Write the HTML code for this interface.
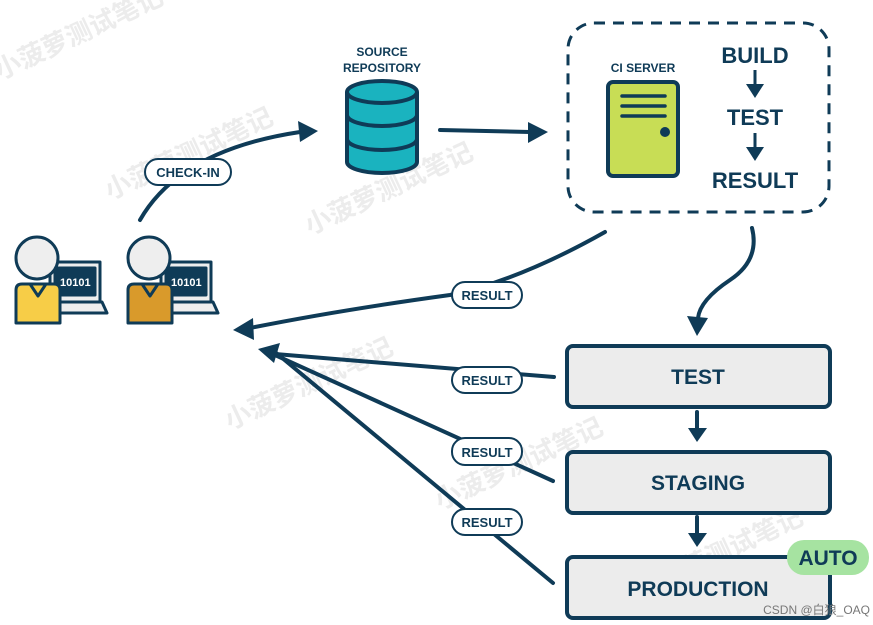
<!DOCTYPE html>
<html><head><meta charset="utf-8"><style>
html,body{margin:0;padding:0;background:#fff;}
svg{display:block;font-family:"Liberation Sans","Noto Sans CJK SC",sans-serif;}
</style></head><body>
<svg width="873" height="625" viewBox="0 0 873 625" xmlns="http://www.w3.org/2000/svg">
<g fill="#ececec" font-size="26" font-weight="bold">
<text x="0" y="80" transform="rotate(-25 0 80)">小菠萝测试笔记</text>
<text x="310" y="235" transform="rotate(-25 310 235)">小菠萝测试笔记</text>
<text x="230" y="430" transform="rotate(-25 230 430)">小菠萝测试笔记</text>
<text x="440" y="510" transform="rotate(-25 440 510)">小菠萝测试笔记</text>
<text x="640" y="600" transform="rotate(-25 640 600)">小菠萝测试笔记</text>
<text x="110" y="200" transform="rotate(-25 110 200)">小菠萝测试笔记</text>
</g>
<g stroke="#0f3b57" stroke-width="4" fill="none" stroke-linecap="round">
<path d="M140,220 Q180,150 300,132" />
<path d="M440,130 L530,132" />
<path d="M605,232 Q520,280 450,295 Q340,310 250,328"/>
<path d="M752,228 Q760,260 730,280 Q700,300 698,318"/>
<path d="M697,412 L697,432"/>
<path d="M697,517 L697,537"/>
<path d="M554,377 L275,354"/>
<path d="M553,481 L275,355"/>
<path d="M553,583 L275,352"/>
</g>
<g fill="#0f3b57">
<path d="M318,131 L298,121 L300,142 Z"/>
<path d="M548,132 L528,122 L528,143 Z"/>
<path d="M233,330 L253,318 L254,340 Z"/>
<path d="M697,336 L687,316 L708,318 Z"/>
<path d="M697,442 L688,428 L707,428 Z"/>
<path d="M697,547 L688,533 L707,533 Z"/>
<path d="M258,349 L280,343 L274,363 Z"/>
</g>
<g font-size="13" font-weight="bold" fill="#0f3b57" text-anchor="middle">
<rect x="145" y="159" width="86" height="26" rx="13" fill="#fff" stroke="#0f3b57" stroke-width="2"/>
<text x="188" y="177">CHECK-IN</text>
<rect x="452" y="282" width="70" height="26" rx="13" fill="#fff" stroke="#0f3b57" stroke-width="2"/>
<text x="487" y="300">RESULT</text>
<rect x="452" y="367" width="70" height="26" rx="13" fill="#fff" stroke="#0f3b57" stroke-width="2"/>
<text x="487" y="385">RESULT</text>
<rect x="452" y="438" width="70" height="27" rx="13" fill="#fff" stroke="#0f3b57" stroke-width="2"/>
<text x="487" y="457">RESULT</text>
<rect x="452" y="509" width="70" height="26" rx="13" fill="#fff" stroke="#0f3b57" stroke-width="2"/>
<text x="487" y="527">RESULT</text>
</g>
<text x="382" y="56" font-size="12" font-weight="bold" fill="#0f3b57" text-anchor="middle">SOURCE</text>
<text x="382" y="72" font-size="12" font-weight="bold" fill="#0f3b57" text-anchor="middle">REPOSITORY</text>
<g stroke="#0f3b57" stroke-width="4" fill="#1ab3bf">
<path d="M347,92 L347,162 A35,11 0 0 0 417,162 L417,92"/>
<ellipse cx="382" cy="92" rx="35" ry="11"/>
<path d="M347,115 A35,11 0 0 0 417,115 M347,139 A35,11 0 0 0 417,139" fill="none"/>
</g>
<rect x="568" y="23" width="261" height="189" rx="26" fill="none" stroke="#0f3b57" stroke-width="3" stroke-dasharray="11,8"/>
<text x="643" y="72" font-size="12" font-weight="bold" fill="#0f3b57" text-anchor="middle">CI SERVER</text>
<rect x="608" y="82" width="70" height="94" rx="5" fill="#c8dd55" stroke="#0f3b57" stroke-width="4"/>
<g stroke="#0f3b57" stroke-width="3.5" stroke-linecap="round"><line x1="622" y1="96" x2="665" y2="96"/><line x1="622" y1="106" x2="665" y2="106"/><line x1="622" y1="116" x2="665" y2="116"/></g>
<circle cx="665" cy="132" r="5" fill="#0f3b57"/>
<g font-size="22" font-weight="bold" fill="#0f3b57" text-anchor="middle">
<text x="755" y="63">BUILD</text>
<text x="755" y="125">TEST</text>
<text x="755" y="188">RESULT</text>
</g>
<g stroke="#0f3b57" stroke-width="3"><line x1="755" y1="70" x2="755" y2="88"/><line x1="755" y1="133" x2="755" y2="151"/></g>
<g fill="#0f3b57"><path d="M746,84 L764,84 L755,98 Z"/><path d="M746,147 L764,147 L755,161 Z"/></g>
<g fill="#ececec" stroke="#0f3b57" stroke-width="4">
<rect x="567" y="346" width="263" height="61" rx="6"/>
<rect x="567" y="452" width="263" height="61" rx="6"/>
<rect x="567" y="557" width="263" height="61" rx="6"/>
</g>
<g font-size="21" font-weight="bold" fill="#0f3b57" text-anchor="middle">
<text x="698" y="384">TEST</text>
<text x="698" y="490">STAGING</text>
<text x="698" y="596">PRODUCTION</text>
</g>
<rect x="787" y="540" width="82" height="35" rx="17" fill="#a6e3a1"/>
<text x="828" y="565" font-size="21" font-weight="bold" fill="#0f3b57" text-anchor="middle">AUTO</text>
<g stroke="#0f3b57" stroke-width="3" stroke-linejoin="round">
<rect x="50" y="262" width="50" height="40" fill="#eee"/><rect x="55" y="268" width="40" height="27" fill="#0f3b57"/>
<path d="M45,302 L102,302 L107,313 L40,313 Z" fill="#eee"/>
<path d="M16,290 Q16,284 22,284 L54,284 Q60,284 60,290 L60,323 L16,323 Z" fill="#f7cd47"/>
<path d="M30,284 L38,296 L46,284" fill="none"/>
<circle cx="37" cy="258" r="21" fill="#eee"/>
<rect x="161" y="262" width="50" height="40" fill="#eee"/><rect x="166" y="268" width="40" height="27" fill="#0f3b57"/>
<path d="M156,302 L213,302 L218,313 L151,313 Z" fill="#eee"/>
<path d="M128,290 Q128,284 134,284 L166,284 Q172,284 172,290 L172,323 L128,323 Z" fill="#d99a2b"/>
<path d="M142,284 L150,296 L158,284" fill="none"/>
<circle cx="149" cy="258" r="21" fill="#eee"/>
</g>
<g font-size="11" font-weight="bold" fill="#fff"><text x="60" y="286">10101</text><text x="171" y="286">10101</text></g>
<text x="870" y="614" font-size="12" fill="#777" text-anchor="end">CSDN @白狼_OAQ</text>
</svg>
</body></html>
